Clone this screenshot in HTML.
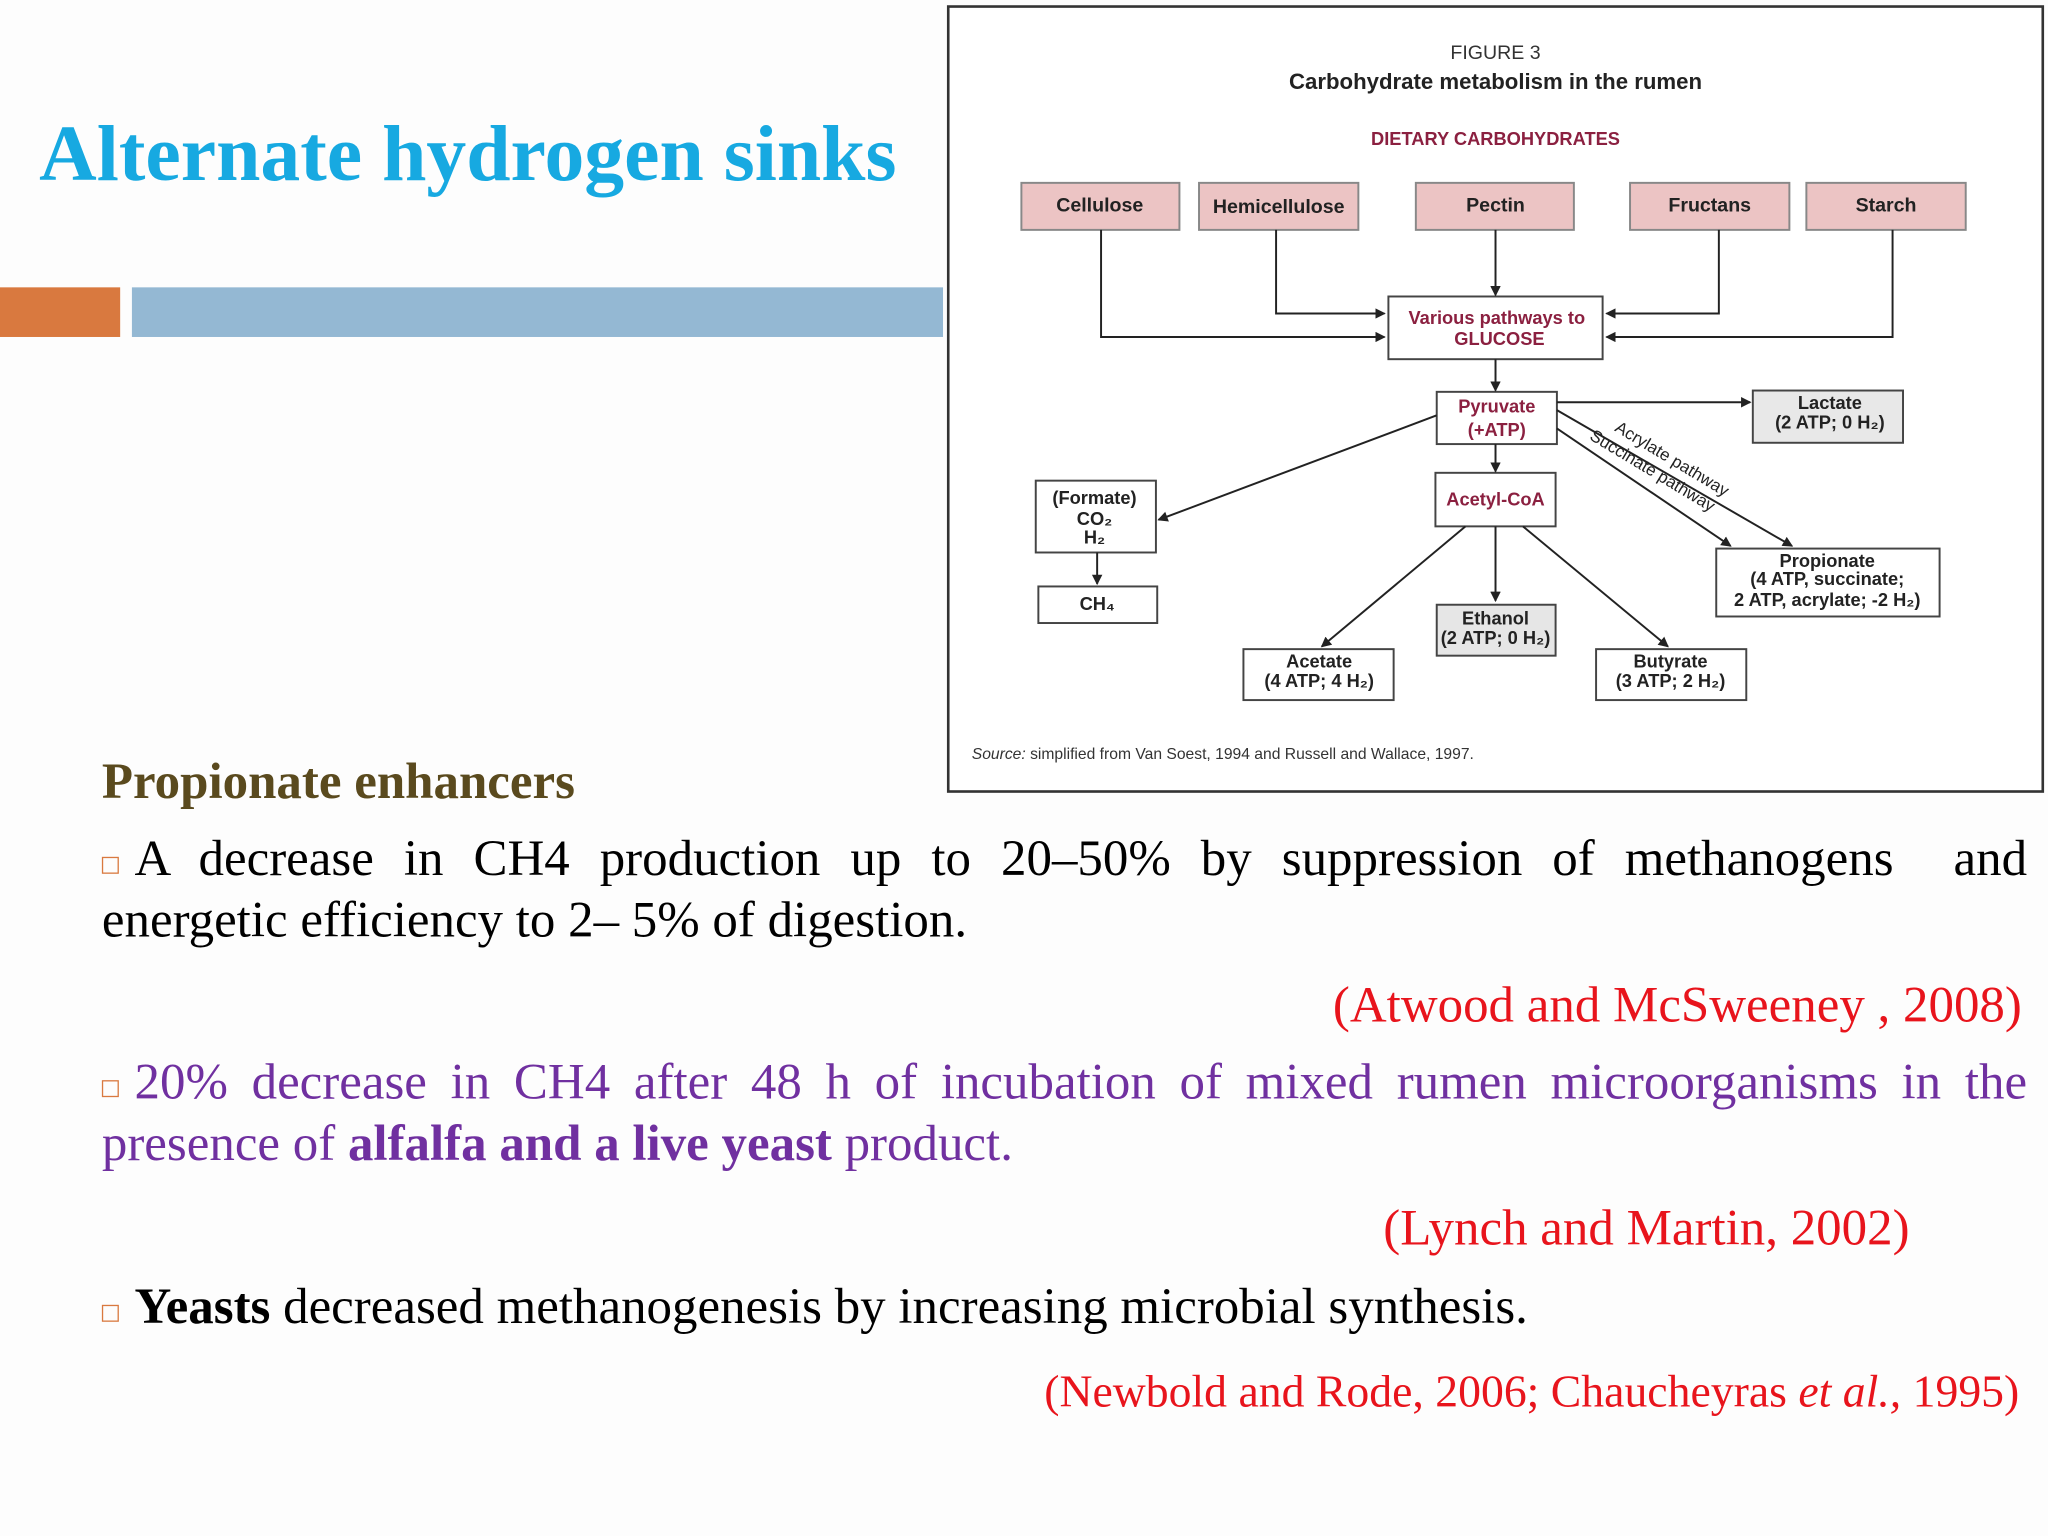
<!DOCTYPE html>
<html><head><meta charset="utf-8"><style>
html,body{margin:0;padding:0;background:#fff;}
#wrap{width:1568px;height:1176px;transform:scale(1.306122);transform-origin:0 0;position:relative;background:#fdfdfd;overflow:hidden;font-family:"Liberation Serif",serif;}
.abs{position:absolute;white-space:nowrap;}
.line{position:absolute;left:78px;width:1474px;font-size:39px;line-height:40px;}
.j{text-align:justify;text-align-last:justify;}
.sq{display:inline-block;width:11px;height:11px;border:1.5px solid #d9793f;margin-right:12px;vertical-align:1px;}
svg text{font-family:"Liberation Sans Narrow","Liberation Sans",sans-serif;}
</style></head><body><div id="wrap">
<div class="abs" style="left:30px;top:84px;font-size:61px;font-weight:bold;color:#17a9e1;">Alternate hydrogen sinks</div>
<div class="abs" style="left:0;top:220px;width:92px;height:38px;background:#d9793f;"></div>
<div class="abs" style="left:101px;top:220px;width:621px;height:38px;background:#94b8d3;"></div>

<svg class="abs" style="left:0;top:0" width="1568" height="1176" viewBox="0 0 1568 1176">
<defs><marker id="a" markerWidth="8" markerHeight="8" refX="7" refY="4" orient="auto" markerUnits="userSpaceOnUse"><path d="M0,0 L8,4 L0,8 z" fill="#222"/></marker></defs>
<rect x="726" y="5" width="838" height="601" fill="#fff" stroke="#333" stroke-width="2"/>
<text x="1145" y="45" text-anchor="middle" font-size="15" fill="#333">FIGURE 3</text>
<text x="1145" y="68" text-anchor="middle" font-size="17" font-weight="bold" fill="#222">Carbohydrate metabolism in the rumen</text>
<text x="1145" y="111" text-anchor="middle" font-size="14" font-weight="bold" fill="#8b2040">DIETARY CARBOHYDRATES</text>
<g fill="#ecc4c4" stroke="#888" stroke-width="1.5">
<rect x="782" y="140" width="121" height="36"/><rect x="918" y="140" width="122" height="36"/><rect x="1084" y="140" width="121" height="36"/><rect x="1248" y="140" width="122" height="36"/><rect x="1383" y="140" width="122" height="36"/></g>
<g font-size="15" font-weight="bold" text-anchor="middle" fill="#222">
<text x="842" y="162">Cellulose</text><text x="979" y="163">Hemicellulose</text><text x="1145" y="162">Pectin</text><text x="1309" y="162">Fructans</text><text x="1444" y="162">Starch</text></g>
<g fill="#fff" stroke="#444" stroke-width="1.5">
<rect x="1063" y="227" width="164" height="48"/><rect x="1100" y="300" width="92" height="40"/><rect x="1342" y="299" width="115" height="40" fill="#e8e8e8"/><rect x="1099" y="362" width="92" height="41"/><rect x="793" y="368" width="92" height="55"/><rect x="795" y="449" width="91" height="28"/><rect x="1100" y="463" width="91" height="39" fill="#e6e6e6"/><rect x="952" y="497" width="115" height="39"/><rect x="1222" y="497" width="115" height="39"/><rect x="1314" y="420" width="171" height="52"/></g>
<g stroke="#222" stroke-width="1.5" fill="none" marker-end="url(#a)">
<path d="M843,176 V258 H1060"/><path d="M977,176 V240 H1060"/><path d="M1145,176 V226"/><path d="M1316,176 V240 H1230"/><path d="M1449,176 V258 H1230"/>
<path d="M1145,275 V299"/><path d="M1192,308 H1340"/><path d="M1145,340 V361"/><path d="M1100,318 L887,398"/><path d="M840,423 V447"/><path d="M1145,403 V460"/><path d="M1122,403 L1012,495"/><path d="M1166,403 L1277,495"/><path d="M1192,314 L1372,418"/><path d="M1192,328 L1325,418"/></g>
<g font-size="14" font-weight="bold" text-anchor="middle" fill="#8b2040"><text x="1146" y="248">Various pathways to</text><text x="1148" y="264">GLUCOSE</text><text x="1146" y="316">Pyruvate</text><text x="1146" y="334">(+ATP)</text><text x="1145" y="387">Acetyl-CoA</text></g>
<g font-size="14" font-weight="bold" text-anchor="middle" fill="#222">
<text x="1401" y="313">Lactate</text><text x="1401" y="328">(2 ATP; 0 H₂)</text>
<text x="838" y="386">(Formate)</text><text x="838" y="402">CO₂</text><text x="838" y="416">H₂</text>
<text x="840" y="467">CH₄</text>
<text x="1145" y="478">Ethanol</text><text x="1145" y="493">(2 ATP; 0 H₂)</text>
<text x="1010" y="511">Acetate</text><text x="1010" y="526">(4 ATP; 4 H₂)</text>
<text x="1279" y="511">Butyrate</text><text x="1279" y="526">(3 ATP; 2 H₂)</text>
<text x="1399" y="434">Propionate</text><text x="1399" y="448">(4 ATP, succinate;</text><text x="1399" y="464">2 ATP, acrylate; -2 H₂)</text>
<text transform="translate(1278,355) rotate(31)" font-size="13" font-weight="normal">Acrylate pathway</text>
<text transform="translate(1263,364) rotate(31)" font-size="13" font-weight="normal">Succinate pathway</text></g>
<text x="744" y="581" font-size="12" fill="#333"><tspan font-style="italic">Source:</tspan> simplified from Van Soest, 1994 and Russell and Wallace, 1997.</text>
</svg>

<div class="abs" style="left:78px;top:576px;font-size:39px;font-weight:bold;color:#5a4a1e;">Propionate enhancers</div>
<div class="line j" style="top:638px;"><span class="sq"></span>A decrease in CH4 production up to 20–50% by suppression of methanogens &nbsp;and</div>
<div class="line" style="top:685px;">energetic efficiency to 2– 5% of digestion.</div>
<div class="abs" style="right:20px;top:747px;font-size:39px;color:#e8141c;">(Atwood and McSweeney , 2008)</div>
<div class="line j" style="top:809px;color:#7030a0;"><span class="sq"></span>20% decrease in CH4 after 48 h of incubation of mixed rumen microorganisms in the</div>
<div class="line" style="top:856px;color:#7030a0;">presence of <b>alfalfa and a live yeast</b> product.</div>
<div class="abs" style="right:106px;top:918px;font-size:39px;color:#e8141c;">(Lynch and Martin, 2002)</div>
<div class="line" style="top:981px;"><span class="sq"></span><b>Yeasts</b> decreased methanogenesis by increasing microbial synthesis.</div>
<div class="abs" style="right:22px;top:1046px;font-size:35px;color:#e8141c;">(Newbold and Rode, 2006; Chaucheyras <i>et al.,</i> 1995)</div>
</div></body></html>
